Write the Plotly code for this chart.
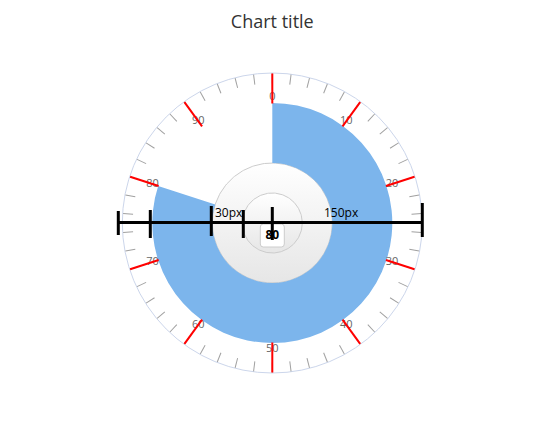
import numpy as np
import plotly.graph_objects as go

W, H = 549, 428
PAGE = 8  # default body margin of the page around the plot div

# data
title = "Chart title"
value = 80
axis_max = 100
major_values = [0, 10, 20, 30, 40, 50, 60, 70, 80, 90]
major_labels = ["0", "10", "20", "30", "40", "50", "60", "70", "80", "90"]
minor_step = 2
guide_texts = ["30px", "150px"]

# geometry (page px)
CX, CY = 272.3, 223
R_AXIS = 150
R_BAR_IN, R_BAR_OUT = 60, 120
R_BG = [60, 30]
R_LABEL = 126

FONT = "Open Sans"
FW, FH = W - PAGE, H - PAGE


def deg(v):
    return v / axis_max * 360


fig = go.Figure()

# pane backgrounds (pixel cartesian overlay)
t = np.linspace(0, 2 * np.pi, 241)
for r in R_BG:
    fig.add_trace(go.Scatter(
        x=CX + r * np.cos(t), y=CY + r * np.sin(t),
        mode="lines", fill="toself",
        fillgradient=dict(type="vertical", colorscale=[[0, "#e6e6e6"], [1, "#ffffff"]]),
        line=dict(color="#cccccc", width=1),
        hoverinfo="skip", showlegend=False))

# the gauge bar
fig.add_trace(go.Barpolar(
    r=[R_BAR_OUT - R_BAR_IN], base=[R_BAR_IN],
    theta=[deg(value) / 2], width=[deg(value)],
    marker=dict(color="#7cb5ec", line=dict(width=0)),
    subplot="polar", showlegend=False, hoverinfo="skip"))

# axis labels
fig.add_trace(go.Scatterpolar(
    r=[R_LABEL] * len(major_values), theta=[deg(v) for v in major_values],
    mode="text", text=major_labels,
    textfont=dict(family=FONT, size=11, color="#666666"),
    subplot="polar2", showlegend=False, hoverinfo="skip"))

dom_x = [(CX - R_AXIS - PAGE) / FW, (CX + R_AXIS - PAGE) / FW]
dom_y = [1 - (CY + R_AXIS - PAGE) / FH, 1 - (CY - R_AXIS - PAGE) / FH]

common_radial = dict(visible=False, range=[0, R_AXIS])

fig.update_layout(
    width=FW, height=FH,
    margin=dict(l=0, r=0, t=0, b=0),
    paper_bgcolor="white", plot_bgcolor="rgba(0,0,0,0)",
    font=dict(family=FONT),
    title=dict(text=title, x=(CX - PAGE) / FW, xanchor="center",
               y=1 - (22 - PAGE) / FH, yanchor="middle",
               font=dict(family=FONT, size=18, color="#333333")),
    xaxis=dict(range=[PAGE, W], domain=[0, 1], visible=False, fixedrange=True),
    yaxis=dict(range=[H, PAGE], domain=[0, 1], visible=False, fixedrange=True),
    polar=dict(
        domain=dict(x=dom_x, y=dom_y), bgcolor="rgba(0,0,0,0)", hole=0,
        radialaxis=common_radial,
        angularaxis=dict(rotation=90, direction="clockwise", showgrid=False,
                         showticklabels=False, ticks="inside", ticklen=10, tickwidth=1,
                         tickcolor="#a0a0a0", tickmode="linear", tick0=0, dtick=deg(minor_step),
                         showline=True, linecolor="#ccd6eb", linewidth=1)),
    polar2=dict(
        domain=dict(x=dom_x, y=dom_y), bgcolor="rgba(0,0,0,0)", hole=0,
        radialaxis=common_radial,
        angularaxis=dict(rotation=90, direction="clockwise", showgrid=False,
                         showticklabels=False, ticks="inside", ticklen=30, tickwidth=2,
                         tickcolor="#ff0000", tickmode="linear", tick0=0, dtick=deg(10),
                         showline=False)),
)

# data label box
bx0, bx1, by0, by1, rc = CX - 12, CX + 12, CY + 1, CY + 24, 3
box_path = (f"M {bx0 + rc},{by0} L {bx1 - rc},{by0} Q {bx1},{by0} {bx1},{by0 + rc} "
            f"L {bx1},{by1 - rc} Q {bx1},{by1} {bx1 - rc},{by1} L {bx0 + rc},{by1} "
            f"Q {bx0},{by1} {bx0},{by1 - rc} L {bx0},{by0 + rc} Q {bx0},{by0} {bx0 + rc},{by0} Z")
fig.add_shape(type="path", path=box_path, xref="x", yref="y", layer="above",
              fillcolor="white", line=dict(color="#cccccc", width=1),
              label=dict(text=f"<b>{value}</b>", textposition="middle center",
                         font=dict(family=FONT, size=12, color="#000000")))

# measuring guide
marks = [(-154, -12, 12), (-122, -13, 15), (-61, -17, 13), (-29, -13, 15), (0, -16, 17), (150, -20, 14)]
fig.add_shape(type="line", xref="x", yref="y", layer="above",
              x0=CX - 154, x1=CX + 150, y0=CY - 0.5, y1=CY - 0.5,
              line=dict(color="black", width=3))
for dx, top, bot in marks:
    fig.add_shape(type="line", xref="x", yref="y", layer="above",
                  x0=CX + dx, x1=CX + dx, y0=CY + top, y1=CY + bot,
                  line=dict(color="black", width=3))

for txt, xl in zip(guide_texts, [CX - 59, CX + 49.5]):
    fig.add_annotation(x=xl, y=CY - 11, xref="x", yref="y", text=txt, showarrow=False,
                       xanchor="left", yanchor="middle",
                       font=dict(family=FONT, size=12, color="#000000"))

fig.write_html("out.html")
